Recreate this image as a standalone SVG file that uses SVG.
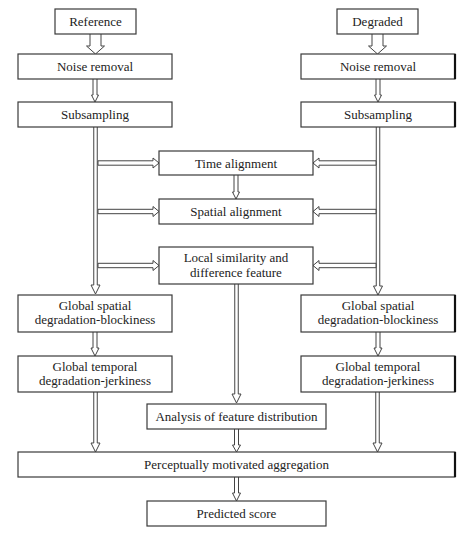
<svg xmlns="http://www.w3.org/2000/svg" width="474" height="537" viewBox="0 0 474 537">
<style>
.box{fill:#fff;stroke:#3a3a3a;stroke-width:1.2}
.edge{stroke:#111;stroke-width:2.2}
.t{font-family:"Liberation Serif","Times New Roman",serif;font-size:13px;fill:#222;text-anchor:middle}
.ar{fill:#fff;stroke:#444;stroke-width:1}
</style>
<rect width="474" height="537" fill="#fff"/>
<g id="connectors">
<path class="ar" d="M90 34 V46 H86.5 L95.5 54 L104.5 46 H101 V34"/>
<path class="ar" d="M372 34 V46 H368.5 L377.5 54 L386.5 46 H383 V34"/>
<path class="ar" d="M93 79 V95 H91.5 L95 102 L98.5 95 H97 V79"/>
<path class="ar" d="M376 79 V95 H374.5 L378 102 L381.5 95 H380 V79"/>
<path class="ar" d="M93.75 127 V285 H91 L95.5 294 L100 285 H97.25 V127"/>
<path class="ar" d="M376.25 127 V286 H373.5 L378 295 L382.5 286 H379.75 V127"/>
<path class="ar" d="M98 160.8 H153 V158 L159 163 L153 168 V165.2 H98 Z"/>
<path class="ar" d="M98 209.3 H153 V206.5 L159 211.5 L153 216.5 V213.7 H98 Z"/>
<path class="ar" d="M98 263.3 H153 V260.5 L159 265.5 L153 270.5 V267.7 H98 Z"/>
<path class="ar" d="M376 160.8 H319 V158 L313 163 L319 168 V165.2 H376 Z"/>
<path class="ar" d="M376 209.3 H319 V206.5 L313 211.5 L319 216.5 V213.7 H376 Z"/>
<path class="ar" d="M376 263.3 H319 V260.5 L313 265.5 L319 270.5 V267.7 H376 Z"/>
<path class="ar" d="M234 175 V192 H232.5 L236 199 L239.5 192 H238 V175"/>
<path class="ar" d="M234.75 284 V394 H232 L236.5 403 L241 394 H238.25 V284"/>
<path class="ar" d="M93 332 V348 H91 L95 356 L99 348 H97 V332"/>
<path class="ar" d="M376 332 V348 H374 L378 356 L382 348 H380 V332"/>
<path class="ar" d="M93.75 392 V443 H91 L95.5 452 L100 443 H97.25 V392"/>
<path class="ar" d="M375.75 392 V443 H373 L377.5 452 L382 443 H379.25 V392"/>
<path class="ar" d="M234.5 429 V445 H232.5 L236.5 452 L240.5 445 H238.5 V429"/>
<path class="ar" d="M234.5 477 V493 H232.5 L236.5 501 L240.5 493 H238.5 V477"/>
</g>
<g id="reference"><rect class="box" x="55" y="9" width="81" height="25"/><text class="t" x="95.5" y="26">Reference</text></g>
<g id="degraded"><rect class="box" x="337" y="9" width="81" height="25"/><text class="t" x="377.5" y="26">Degraded</text></g>
<g id="noise-left"><rect class="box" x="18" y="54" width="154" height="25"/><text class="t" x="95" y="71">Noise removal</text></g>
<g id="noise-right"><rect class="box" x="301" y="54" width="154" height="25"/><line class="edge" x1="455" y1="54" x2="455" y2="79"/><text class="t" x="378" y="71">Noise removal</text></g>
<g id="sub-left"><rect class="box" x="18" y="102" width="154" height="25"/><text class="t" x="95" y="119">Subsampling</text></g>
<g id="sub-right"><rect class="box" x="301" y="102" width="154" height="25"/><line class="edge" x1="455" y1="102" x2="455" y2="127"/><text class="t" x="378" y="119">Subsampling</text></g>
<g id="time"><rect class="box" x="159" y="151" width="154" height="24"/><text class="t" x="236" y="167.5">Time alignment</text></g>
<g id="spatial"><rect class="box" x="159" y="199" width="154" height="25"/><text class="t" x="236" y="216">Spatial alignment</text></g>
<g id="local"><rect class="box" x="159" y="247" width="154" height="37"/><text class="t" x="236" y="262">Local similarity and</text><text class="t" x="236" y="277">difference feature</text></g>
<g id="gs-left"><rect class="box" x="18" y="295" width="154" height="37"/><text class="t" x="95" y="310">Global spatial</text><text class="t" x="95" y="324">degradation-blockiness</text></g>
<g id="gs-right"><rect class="box" x="301" y="295" width="154" height="37"/><line class="edge" x1="455" y1="295" x2="455" y2="332"/><text class="t" x="378" y="310">Global spatial</text><text class="t" x="378" y="324">degradation-blockiness</text></g>
<g id="gt-left"><rect class="box" x="18" y="356" width="154" height="36"/><text class="t" x="95" y="371">Global temporal</text><text class="t" x="95" y="385">degradation-jerkiness</text></g>
<g id="gt-right"><rect class="box" x="301" y="356" width="154" height="36"/><line class="edge" x1="455" y1="356" x2="455" y2="392"/><text class="t" x="378" y="371">Global temporal</text><text class="t" x="378" y="385">degradation-jerkiness</text></g>
<g id="analysis"><rect class="box" x="147" y="404" width="179" height="25"/><text class="t" x="236.5" y="421">Analysis of feature distribution</text></g>
<g id="aggregation"><rect class="box" x="18" y="452" width="437" height="25"/><line class="edge" x1="455" y1="452" x2="455" y2="477"/><text class="t" x="236.5" y="469">Perceptually motivated aggregation</text></g>
<g id="predicted"><rect class="box" x="147" y="501" width="179" height="25"/><text class="t" x="236.5" y="518">Predicted score</text></g>
</svg>
